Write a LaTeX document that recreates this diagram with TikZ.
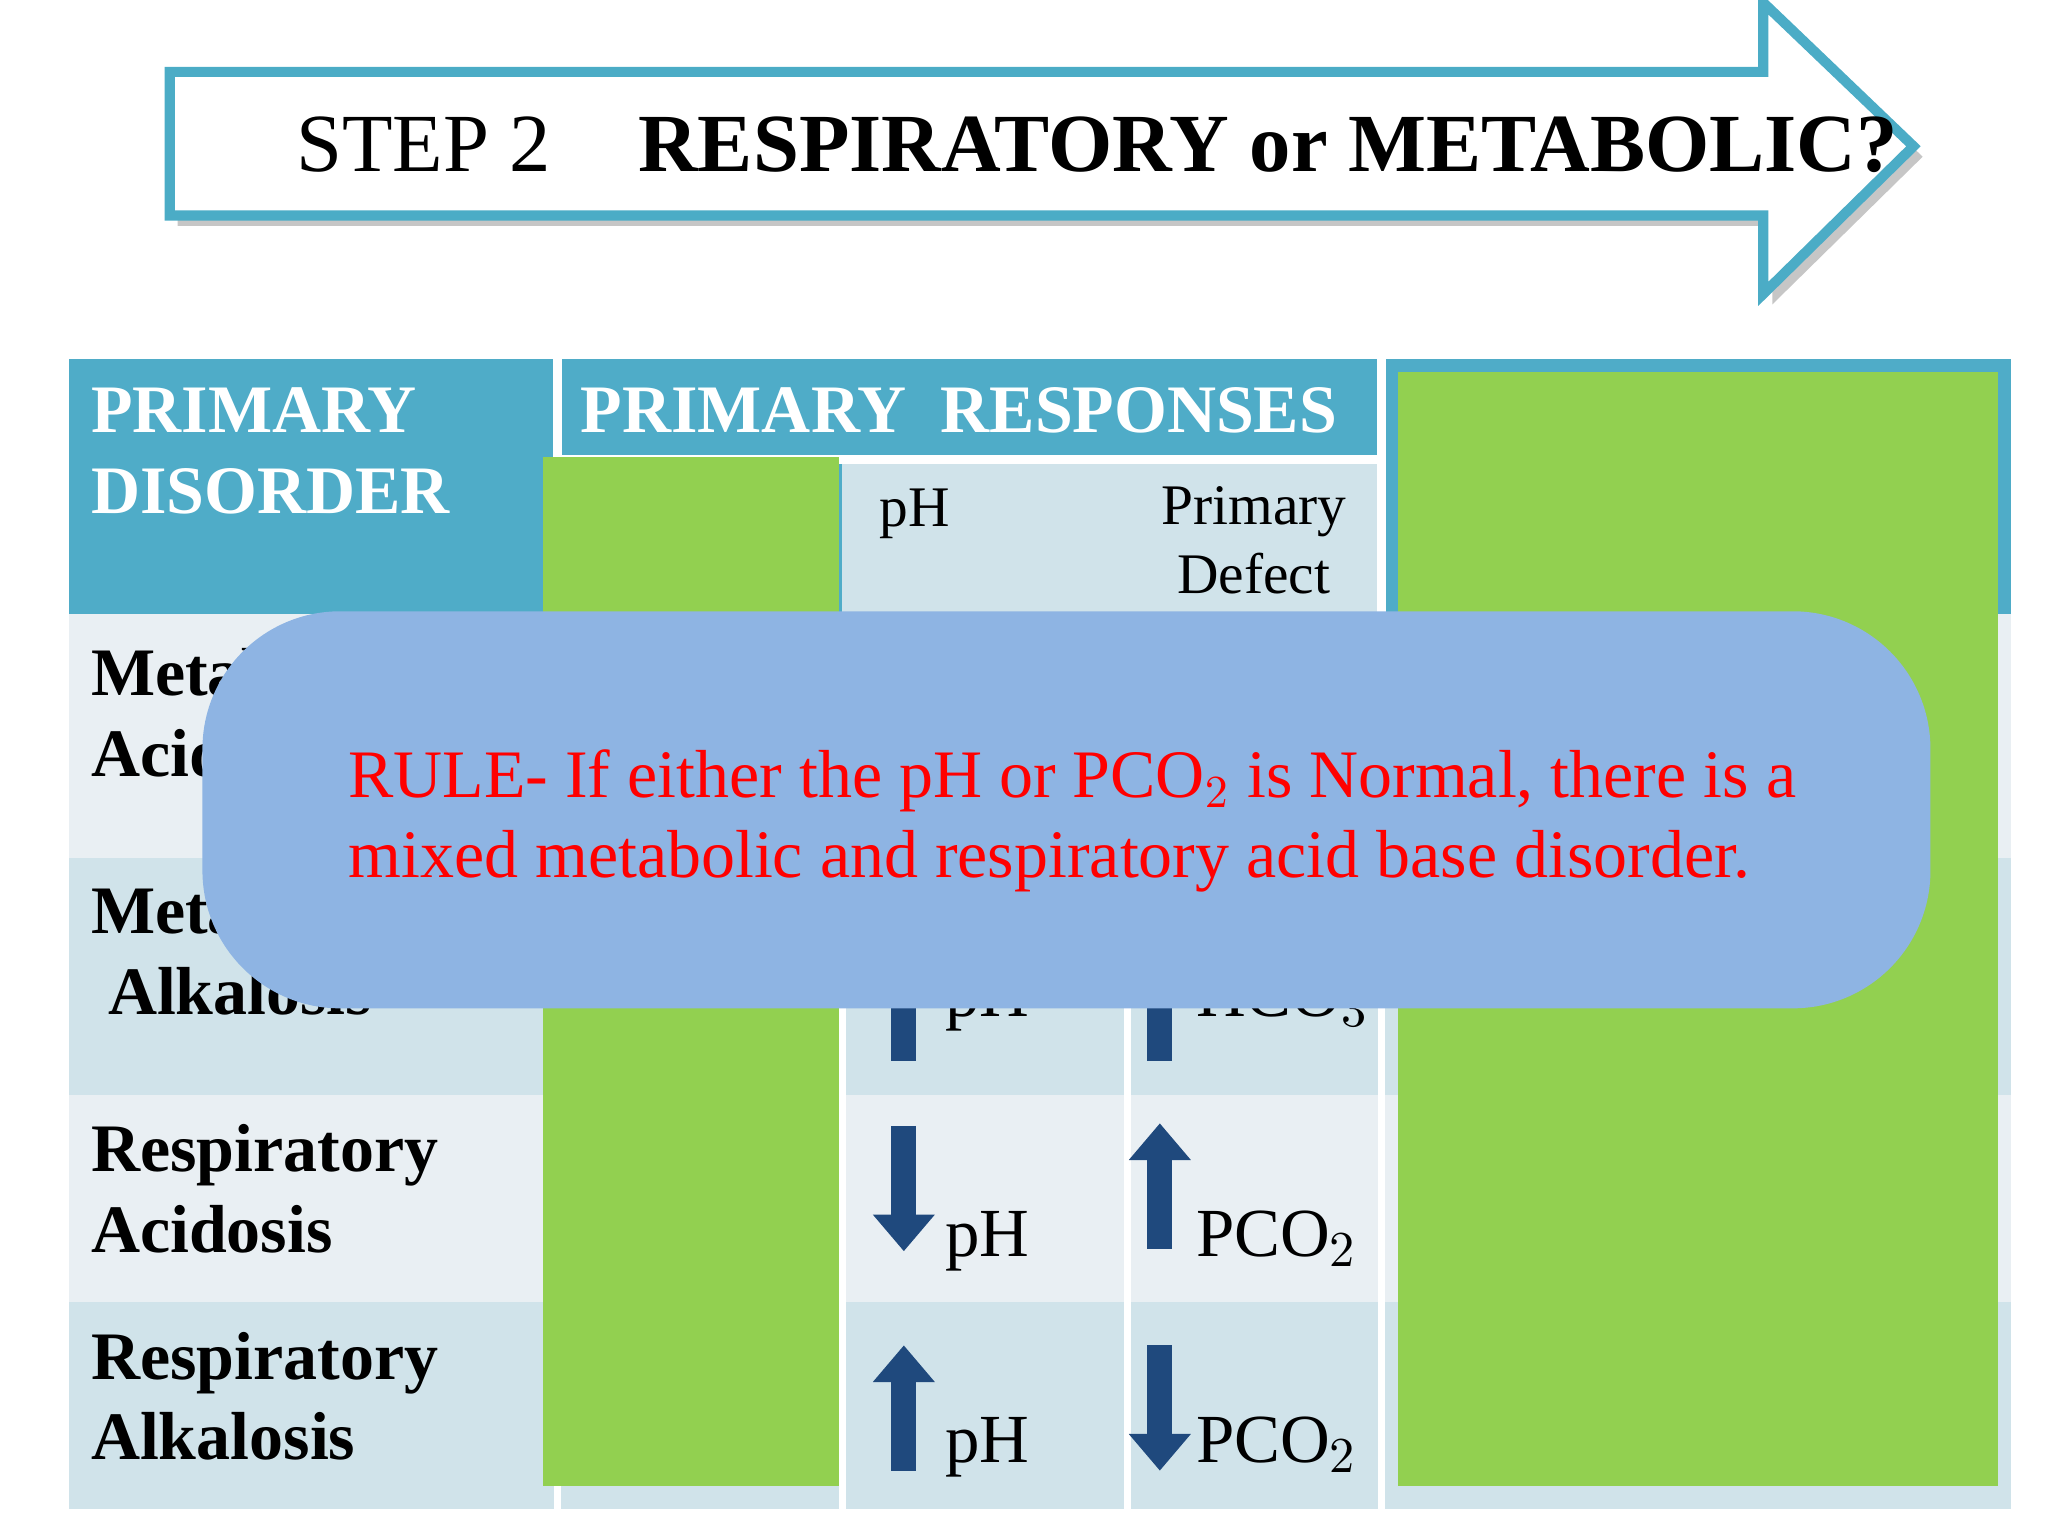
\documentclass[tikz,border=0pt]{standalone}
\usepackage{fontspec}
\setmainfont{Liberation Serif}
\usetikzlibrary{arrows.meta}
\definecolor{teal}{HTML}{4BACC6}
\definecolor{hdr}{HTML}{4FACC8}
\definecolor{lt}{HTML}{E9EFF3}
\definecolor{md}{HTML}{D0E3EA}
\definecolor{grn}{HTML}{92D050}
\definecolor{bbox}{HTML}{8EB4E3}
\definecolor{darr}{HTML}{1F497D}
\tikzset{
 cell/.style={draw=white,line width=1.5pt},
 lbl/.style={anchor=north west,align=left,font=\fontsize{14.8}{17.6}\selectfont\bfseries,inner sep=0},
 val/.style={anchor=base west,font=\fontsize{15}{18}\selectfont,inner sep=0},
 barr/.style={darr,line width=5.5pt,-{Triangle[width=13pt,length=8pt]}}
}
\begin{document}
\begin{tikzpicture}[x=0.1mm,y=-0.1mm]
\useasboundingbox (0,0) rectangle (1568,1176);
% arrow banner
\fill[gray!45] (136,62) -- (1357,62) -- (1357,8) -- (1472,120) -- (1357,233) -- (1357,173) -- (136,173) -- cycle;
\draw[teal,line width=2.2pt,fill=white] (130,55) -- (1350,55) -- (1350,2) -- (1465,112) -- (1350,225) -- (1350,165) -- (130,165) -- cycle;
\node[anchor=base west,inner sep=0,font=\fontsize{18}{22}\selectfont] (s2) at (226,131) {STEP 2};
\node[anchor=base west,inner sep=0,font=\fontsize{18}{22}\selectfont\bfseries] (tt) at (488,131) {RESPIRATORY or METABOLIC?};
% table
\fill[hdr] (53,275) rectangle (1540,470);
\fill[md] (645,352) rectangle (1058,470);
\fill[lt] (53,470) rectangle (1540,657);
\fill[md] (53,657) rectangle (1540,838);
\fill[lt] (53,838) rectangle (1540,997);
\fill[md] (53,997) rectangle (1540,1155);
\foreach \x in {427,645,863,1058} \draw[white,line width=1.5pt] (\x,470) -- (\x,1155);
\draw[white,line width=2pt] (427,275) -- (427,470) (1058,275) -- (1058,470) (427,352) -- (1058,352);
\node[lbl,text=white] (h1) at (69,296) {PRIMARY\\DISORDER};
\node[lbl,text=white] (h2) at (444,296) {PRIMARY\ \ RESPONSES};
\node[val,font=\fontsize{12.5}{15}\selectfont] (ph) at (673,403) {pH};
\node[anchor=north,align=center,inner sep=0,font=\fontsize{12.5}{15}\selectfont] (pd) at (960,372) {Primary\\Defect};
% rows
\node[lbl] (r1) at (69,496) {Metabolic\\Acidosis};
\node[lbl] (r2) at (69,678) {Metabolic\\\ Alkalosis};
\node[lbl] (r3) at (69,860) {Respiratory\\Acidosis};
\node[lbl] (r4) at (69,1019) {Respiratory\\Alkalosis};
% row 2 (partly hidden)
\coordinate (a2s) at (692,812); \coordinate (a2e) at (692,700);
\draw[barr] (a2s) -- (a2e);
\coordinate (b2s) at (888,812); \coordinate (b2e) at (888,700);
\draw[barr] (b2s) -- (b2e);
\node[val] (p2) at (723,778) {pH};
\node[val] (c2) at (915,778) {HCO$_3$};
% row 3
\coordinate (a3s) at (692,862); \coordinate (a3e) at (692,958);
\draw[barr] (a3s) -- (a3e);
\coordinate (b3s) at (888,956); \coordinate (b3e) at (888,860);
\draw[barr] (b3s) -- (b3e);
\node[val] (p3) at (723,962) {pH};
\node[val] (c3) at (915,962) {PCO$_2$};
% row 4
\coordinate (a4s) at (692,1126); \coordinate (a4e) at (692,1030);
\draw[barr] (a4s) -- (a4e);
\coordinate (b4s) at (888,1030); \coordinate (b4e) at (888,1126);
\draw[barr] (b4s) -- (b4e);
\node[val] (p4) at (723,1120) {pH};
\node[val] (c4) at (915,1120) {PCO$_2$};
% green overlays
\fill[grn] (416,350) rectangle (642,1138);
\fill[grn] (1070,285) rectangle (1530,1138);
% rule box
\fill[bbox,rounded corners=30pt] (155,468) rectangle (1478,772);
\node[anchor=north west,align=left,inner sep=0,text=red,font=\fontsize{14.8}{17.6}\selectfont] (rule) at (266,573)
 {RULE- If either the pH or PCO$_2$ is Normal, there is a\\mixed metabolic and respiratory acid base disorder.};
\end{tikzpicture}
\end{document}
